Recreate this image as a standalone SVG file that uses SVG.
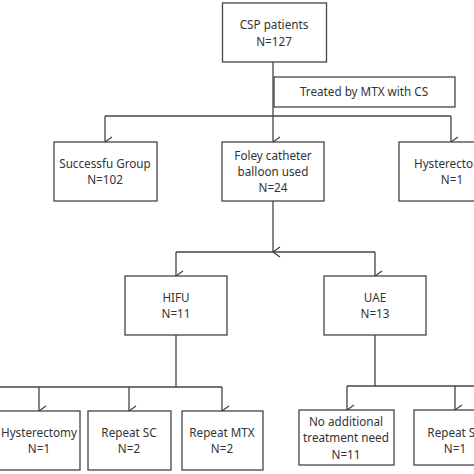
<svg xmlns="http://www.w3.org/2000/svg" width="474" height="474" viewBox="0 0 474 474">
<style>
rect{fill:#fff;stroke:#444;stroke-width:1.3}
text{font-family:"Noto Sans","Open Sans",sans-serif;font-size:11.7px;fill:#333;text-anchor:middle}
.c{fill:none;stroke:#444;stroke-width:1.3}
</style>
<defs>
<marker id="a" markerWidth="12" markerHeight="10" refX="6" refY="8" orient="auto" markerUnits="userSpaceOnUse" viewBox="0 0 12 10">
<polyline points="1,1 6,8 11,1" fill="none" stroke="#444" stroke-width="1.3"/>
</marker>
</defs>
<rect width="474" height="474" fill="#fff" style="stroke:none"/>
<g id="connectors">
<path class="c" d="M273,62 V142" marker-end="url(#a)"/>
<path class="c" d="M105,116 H451"/>
<path class="c" d="M105,116 V142" marker-end="url(#a)"/>
<path class="c" d="M451,116 V142" marker-end="url(#a)"/>
<path class="c" d="M273,201 V252" marker-end="url(#a)"/>
<path class="c" d="M176,252 H375"/>
<path class="c" d="M176,252 V276" marker-end="url(#a)"/>
<path class="c" d="M375,252 V276" marker-end="url(#a)"/>
<path class="c" d="M176,335 V387"/>
<path class="c" d="M-10,387 H222"/>
<path class="c" d="M39,387 V411" marker-end="url(#a)"/>
<path class="c" d="M129,387 V411" marker-end="url(#a)"/>
<path class="c" d="M222,387 V411" marker-end="url(#a)"/>
<path class="c" d="M375,335 V386"/>
<path class="c" d="M347,386 H484"/>
<path class="c" d="M347,386 V410" marker-end="url(#a)"/>
<path class="c" d="M455,386 V410" marker-end="url(#a)"/>
</g>
<g id="csp"><rect x="222.5" y="3" width="104" height="59"/><text x="274" y="29">CSP patients</text><text x="274" y="46">N=127</text></g>
<g id="treated"><rect x="274" y="77" width="181" height="30"/><text x="364" y="96">Treated by MTX with CS</text></g>
<g id="successful"><rect x="54" y="142" width="103" height="59"/><text x="105" y="168">Successfu Group</text><text x="105" y="184">N=102</text></g>
<g id="foley"><rect x="222" y="142" width="102" height="59"/><text x="273" y="160">Foley catheter</text><text x="273" y="176">balloon used</text><text x="273" y="192">N=24</text></g>
<g id="hyst1"><rect x="399" y="142" width="106" height="59"/><text x="452" y="168">Hysterectomy</text><text x="452" y="184">N=1</text></g>
<g id="hifu"><rect x="125" y="276" width="102" height="59"/><text x="176" y="302">HIFU</text><text x="176" y="318">N=11</text></g>
<g id="uae"><rect x="324" y="276" width="102" height="59"/><text x="375" y="302">UAE</text><text x="375" y="318">N=13</text></g>
<g id="hyst2"><rect x="-2" y="411" width="82" height="59"/><text x="39" y="437">Hysterectomy</text><text x="39" y="453">N=1</text></g>
<g id="repeatsc"><rect x="88" y="411" width="83" height="59"/><text x="129" y="437">Repeat SC</text><text x="129" y="453">N=2</text></g>
<g id="repeatmtx"><rect x="182" y="411" width="81" height="59"/><text x="222" y="437">Repeat MTX</text><text x="222" y="453">N=2</text></g>
<g id="noadd"><rect x="299" y="410" width="95" height="55"/><text x="346" y="426">No additional</text><text x="346" y="442">treatment need</text><text x="346" y="459">N=11</text></g>
<g id="repeatsc2"><rect x="414" y="410" width="82" height="55"/><text x="455" y="437">Repeat SC</text><text x="455" y="453">N=1</text></g>
</svg>
